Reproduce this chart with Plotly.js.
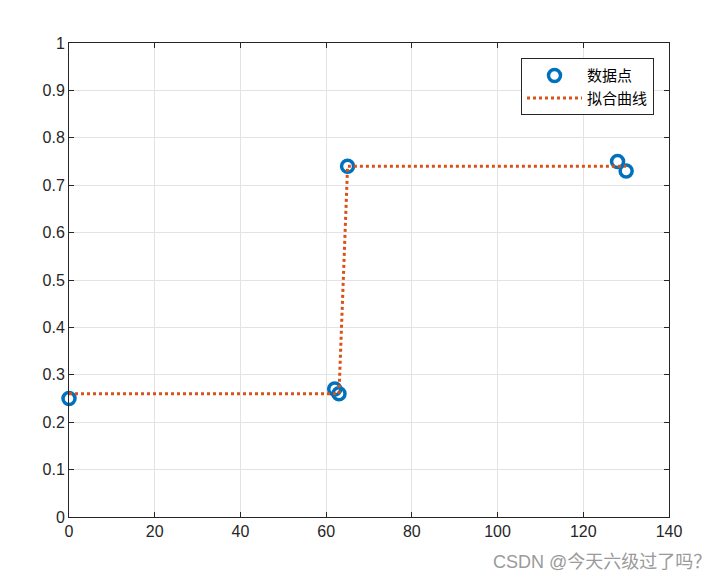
<!DOCTYPE html>
<html>
<head>
<meta charset="utf-8">
<script src="https://cdn.plot.ly/plotly-3.0.1.min.js"></script>
<style>html,body{margin:0;padding:0;background:#fff;}#chart{width:725px;height:578px;}</style>
</head>
<body>
<div id="chart"></div>
<script>
const dataX = [0, 62, 63, 65, 128, 130];
const dataY = [0.25, 0.27, 0.26, 0.74, 0.75, 0.73];
const fitX = [0, 63, 63.5, 64, 64.5, 65, 130];
const fitY = [0.26, 0.26, 0.38, 0.5, 0.62, 0.74, 0.74];
const xTicks = [0, 20, 40, 60, 80, 100, 120, 140];
const yTicks = [0, 0.1, 0.2, 0.3, 0.4, 0.5, 0.6, 0.7, 0.8, 0.9, 1];
const names = ['数据点', '拟合曲线'];
const watermark = 'CSDN @今天六级过了吗？';

const font = 'Liberation Sans, Arial, "Noto Sans CJK SC", sans-serif';

const traces = [
  {x: dataX, y: dataY, mode: 'markers', name: names[0], cliponaxis: false,
   marker: {symbol: 'circle-open', size: 12, color: '#0072BD', line: {width: 3.5, color: '#0072BD'}}},
  {x: fitX, y: fitY, mode: 'lines', name: names[1],
   line: {color: '#D95319', width: 3, dash: 'dot'}}
];

const axisCommon = {
  showline: true, linecolor: '#262626', linewidth: 1, mirror: 'ticks',
  ticks: 'inside', ticklen: 5, tickcolor: '#262626', tickwidth: 1,
  showgrid: true, gridcolor: '#e3e3e3', gridwidth: 1, zeroline: false,
  tickfont: {family: font, size: 16, color: '#262626'}
};

const layout = {
  width: 725, height: 578,
  margin: {l: 69, r: 56, t: 43, b: 61},
  paper_bgcolor: '#fff', plot_bgcolor: '#fff',
  showlegend: true,
  legend: {x: 0.975, y: 0.968, xanchor: 'right', yanchor: 'top',
    bordercolor: '#262626', borderwidth: 1, bgcolor: '#fff',
    font: {family: '"Noto Sans CJK SC", sans-serif', size: 15, color: '#000'},
    tracegroupgap: 0, itemwidth: 55},
  xaxis: Object.assign({}, axisCommon, {range: [0, 140], tickvals: xTicks}),
  yaxis: Object.assign({}, axisCommon, {range: [0, 1], tickvals: yTicks}),
  annotations: [{
    text: watermark, xref: 'paper', yref: 'paper', x: 1.073, y: -0.095,
    xanchor: 'right', yanchor: 'middle', showarrow: false,
    font: {family: 'Liberation Sans, Arial, "Noto Sans CJK SC", sans-serif', size: 18, color: '#9a9a9a'}
  }]
};

Plotly.newPlot('chart', traces, layout, {displayModeBar: false, staticPlot: true});
</script>
</body>
</html>
